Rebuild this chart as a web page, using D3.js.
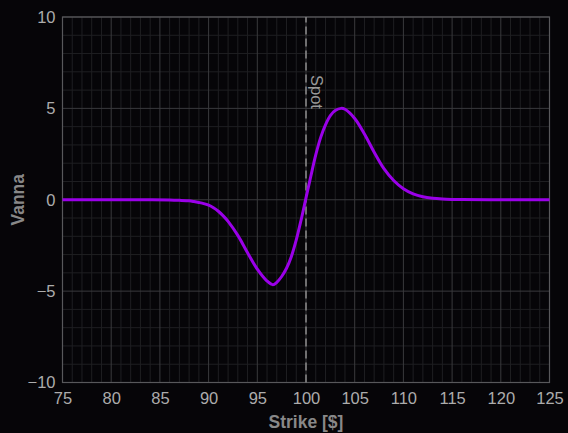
<!DOCTYPE html>
<html>
<head>
<meta charset="utf-8">
<script src="https://cdn.jsdelivr.net/npm/d3@7"></script>
<style>
  html, body { margin: 0; padding: 0; background: #060508; }
  svg { display: block; font-family: "Liberation Sans", Arial, sans-serif; }
</style>
</head>
<body>
<div id="chart"></div>
<script>
// strikes and vanna values
const strikes = [75, 80, 84, 86, 87, 88, 88.5, 89, 89.5, 90, 90.5, 91, 91.5, 92, 93, 94, 95, 96, 96.6, 97, 97.5, 98, 98.5, 99, 99.5, 100,
  100.5, 101, 101.5, 102, 102.5, 103, 103.6, 104, 105, 106, 107, 108, 109, 110, 111, 112, 113, 114, 115, 116, 120, 125];
const vanna = [0, 0, 0, -0.01, -0.03, -0.06, -0.1, -0.15, -0.21, -0.3, -0.44, -0.63, -0.88, -1.18, -1.95, -2.9, -3.8, -4.45, -4.65, -4.52, -4.2, -3.75, -3.1, -2.2, -1.1, 0.1,
  1.3, 2.45, 3.4, 4.1, 4.6, 4.88, 5.0, 4.95, 4.45, 3.6, 2.6, 1.7, 1.05, 0.6, 0.32, 0.16, 0.08, 0.04, 0.02, 0.01, 0, 0];
const xTicks = [75, 80, 85, 90, 95, 100, 105, 110, 115, 120, 125];
const yTicks = [-10, -5, 0, 5, 10];
const spot = 100;

const width = 568, height = 433;
const margin = { top: 17, right: 18.5, bottom: 50.5, left: 62.5 };

const svg = d3.select('#chart')
  .append('svg')
  .attr('width', width)
  .attr('height', height);

svg.append('rect').attr('width', width).attr('height', height).attr('fill', '#060508');

const x = d3.scaleLinear().domain([75, 125]).range([margin.left, width - margin.right]);
const y = d3.scaleLinear().domain([-10, 10]).range([height - margin.bottom, margin.top]);

const g = svg.append('g');

// minor grid
g.append('g')
  .selectAll('line')
  .data(d3.range(76, 125, 1).filter(v => v % 5 !== 0))
  .enter()
  .append('line')
  .attr('x1', d => x(d)).attr('x2', d => x(d))
  .attr('y1', y(-10)).attr('y2', y(10))
  .attr('stroke', '#1f1f22').attr('stroke-width', 1);
g.append('g')
  .selectAll('line')
  .data(d3.range(-9, 10, 1).filter(v => v % 5 !== 0))
  .enter()
  .append('line')
  .attr('y1', d => y(d)).attr('y2', d => y(d))
  .attr('x1', x(75)).attr('x2', x(125))
  .attr('stroke', '#1f1f22').attr('stroke-width', 1);

// major grid
g.append('g')
  .selectAll('line')
  .data(xTicks)
  .enter()
  .append('line')
  .attr('x1', d => x(d)).attr('x2', d => x(d))
  .attr('y1', y(-10)).attr('y2', y(10))
  .attr('stroke', '#3a3a3d').attr('stroke-width', 1);
g.append('g')
  .selectAll('line')
  .data(yTicks)
  .enter()
  .append('line')
  .attr('y1', d => y(d)).attr('y2', d => y(d))
  .attr('x1', x(75)).attr('x2', x(125))
  .attr('stroke', '#3a3a3d').attr('stroke-width', 1);

// frame
svg.append('rect')
  .attr('x', x(75)).attr('y', y(10))
  .attr('width', x(125) - x(75)).attr('height', y(-10) - y(10))
  .attr('fill', 'none').attr('stroke', '#58585b').attr('stroke-width', 1.2);

// axes (labels only)
const xAxis = svg.append('g')
  .attr('transform', `translate(0,${y(-10)})`)
  .call(d3.axisBottom(x).tickValues(xTicks).tickSize(0).tickPadding(10));
const yAxis = svg.append('g')
  .attr('transform', `translate(${x(75)},0)`)
  .call(d3.axisLeft(y).tickValues(yTicks).tickSize(0).tickPadding(7));
[xAxis, yAxis].forEach(a => {
  a.select('.domain').remove();
  a.selectAll('text')
    .attr('fill', '#acacac')
    .style('font-size', '16.5px')
    .style('font-family', '"Liberation Sans", Arial, sans-serif');
});

// spot line
svg.append('line')
  .attr('x1', x(spot)).attr('x2', x(spot))
  .attr('y1', y(-10)).attr('y2', y(10))
  .attr('stroke', '#8a8a8a').attr('stroke-width', 1.5)
  .attr('stroke-dasharray', '8,4');

svg.append('text')
  .attr('transform', `translate(${x(spot) + 11},${y(5.9)}) rotate(90)`)
  .attr('text-anchor', 'middle')
  .attr('dy', '0.35em')
  .attr('fill', '#999')
  .style('font-size', '16.5px')
  .text('Spot');

// vanna curve
const line = d3.line()
  .x((d, i) => x(strikes[i]))
  .y(d => y(d))
  .curve(d3.curveCatmullRom.alpha(0.5));

svg.append('path')
  .datum(vanna)
  .attr('d', line)
  .attr('fill', 'none')
  .attr('stroke', '#9a00e8')
  .attr('stroke-width', 3);

// axis titles
svg.append('text')
  .attr('x', (x(75) + x(125)) / 2)
  .attr('y', 428)
  .attr('text-anchor', 'middle')
  .attr('fill', '#888')
  .style('font-size', '17.5px')
  .style('font-weight', 'bold')
  .text('Strike [$]');

svg.append('text')
  .attr('transform', `translate(24,${y(0)}) rotate(-90)`)
  .attr('text-anchor', 'middle')
  .attr('fill', '#888')
  .style('font-size', '17.5px')
  .style('font-weight', 'bold')
  .text('Vanna');
</script>
</body>
</html>
